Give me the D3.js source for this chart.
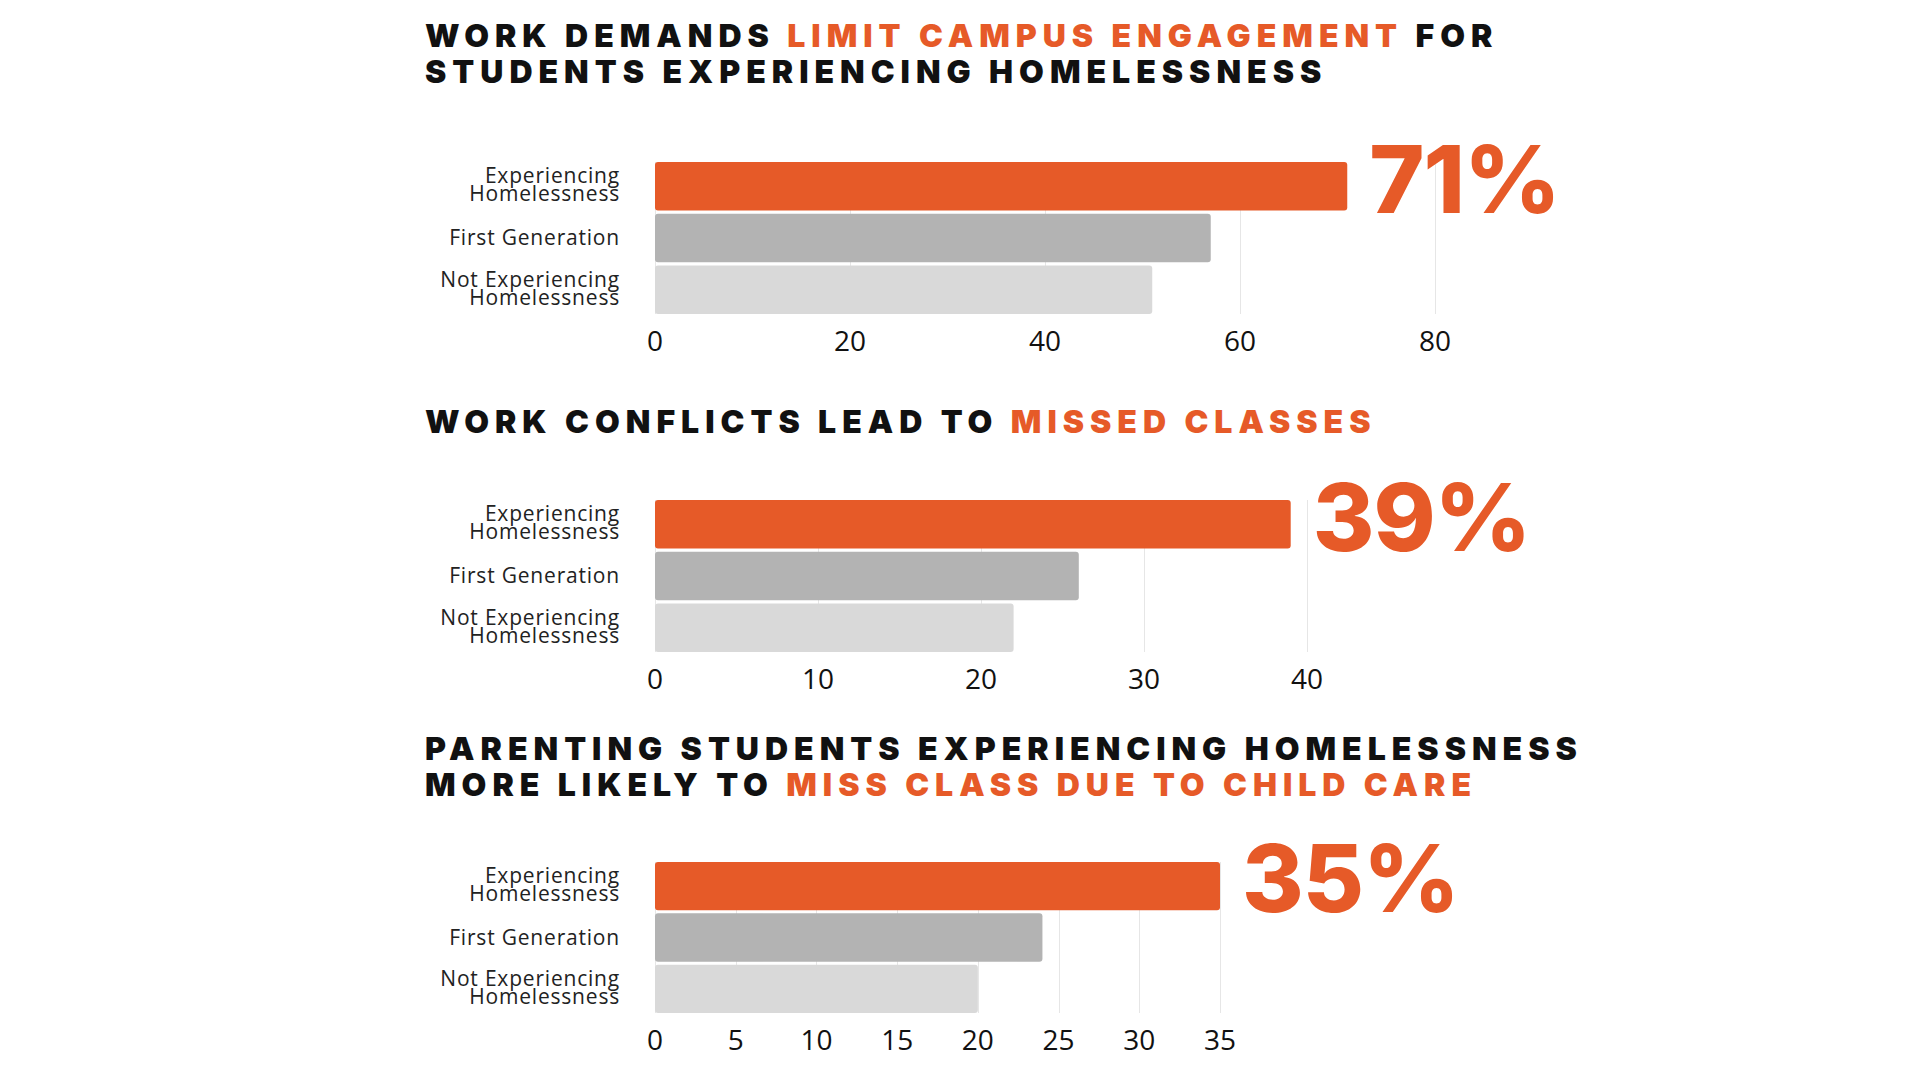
<!DOCTYPE html>
<meta charset='utf-8'>
<style>
  body { margin: 0; background: #fff; }
  .title { font-family: Inter, 'Noto Sans', sans-serif; font-weight: 900; font-size: 32px; fill: #111; letter-spacing: 6px; }
  .hl { fill: #e65a28; }
  .cat { font-family: 'Open Sans', sans-serif; font-size: 21px; fill: #222; letter-spacing: 0.8px; }
  .tick-label { font-family: 'Open Sans', sans-serif; font-size: 28px; fill: #111; }
  .grid line { stroke: #e6e6e6; stroke-width: 1; shape-rendering: crispEdges; }
  .grid path { display: none; }
  .big { font-family: Inter, sans-serif; font-weight: 800; font-size: 94px; fill: #e65a28; letter-spacing: -1px; }
</style>
<body>
<script src='https://d3js.org/d3.v7.min.js'></script>
<script>
  // groups shared by all three panels
  const groups = ['Experiencing Homelessness', 'First Generation', 'Not Experiencing Homelessness']
  const groupColors = ['#e65a28', '#b3b3b3', '#d9d9d9']

  // values (% of students)
  const engagementValues = [71, 57, 51]
  const missedClassValues = [39, 26, 22]
  const childCareValues = [35, 24, 20]

  const engagementTicks = [0, 20, 40, 60, 80]
  const missedClassTicks = [0, 10, 20, 30, 40]
  const childCareTicks = [0, 5, 10, 15, 20, 25, 30, 35]

  // title lines, [text, highlighted?]
  const engagementTitle = [
    [['WORK DEMANDS ', false], ['LIMIT CAMPUS ENGAGEMENT', true], [' FOR', false]],
    [['STUDENTS EXPERIENCING HOMELESSNESS', false]]
  ]
  const missedClassTitle = [
    [['WORK CONFLICTS LEAD TO ', false], ['MISSED CLASSES', true]]
  ]
  const childCareTitle = [
    [['PARENTING STUDENTS EXPERIENCING HOMELESSNESS', false]],
    [['MORE LIKELY TO ', false], ['MISS CLASS DUE TO CHILD CARE', true]]
  ]

  const W = 1920, H = 1080
  const left = 655, titleX = 425, labelX = 620

  const svg = d3.select('body').append('svg')
    .attr('width', W)
    .attr('height', H)

  const panels = [
    {title: engagementTitle, titleY: 47, values: engagementValues, ticks: engagementTicks, xEnd: 1435, top: 162, bottom: 314},
    {title: missedClassTitle, titleY: 433, values: missedClassValues, ticks: missedClassTicks, xEnd: 1307, top: 500, bottom: 652},
    {title: childCareTitle, titleY: 760, values: childCareValues, ticks: childCareTicks, xEnd: 1220, top: 862, bottom: 1013}
  ]

  panels.forEach(p => {
    const g = svg.append('g')

    // title
    p.title.forEach((line, i) => {
      const t = g.append('text')
        .attr('class', 'title')
        .attr('x', titleX)
        .attr('y', p.titleY + i * 36)
      line.forEach(seg => {
        t.append('tspan')
          .attr('class', seg[1] ? 'hl' : null)
          .text(seg[0])
      })
    })

    const x = d3.scaleLinear()
      .domain([0, d3.max(p.ticks)])
      .range([left, p.xEnd])

    const y = d3.scaleBand()
      .domain(groups)
      .range([p.top, p.bottom])
      .paddingInner(0.06)

    // gridlines
    g.append('g')
      .attr('class', 'grid')
      .attr('transform', `translate(0, ${p.top})`)
      .call(d3.axisBottom(x).tickValues(p.ticks).tickSize(p.bottom - p.top).tickFormat(''))

    // bars
    g.selectAll('rect.bar')
      .data(p.values)
      .join('rect')
      .attr('class', 'bar')
      .attr('x', x(0))
      .attr('y', (d, i) => y(groups[i]))
      .attr('width', d => x(d) - x(0))
      .attr('height', y.bandwidth())
      .attr('rx', 3)
      .attr('fill', (d, i) => groupColors[i])

    // category labels, long ones wrapped on two lines
    groups.forEach(name => {
      const cy = y(name) + y.bandwidth() / 2
      const words = name.startsWith('Not') ? ['Not Experiencing', 'Homelessness']
        : name.startsWith('Experiencing') ? ['Experiencing', 'Homelessness'] : [name]
      const t = g.append('text')
        .attr('class', 'cat')
        .attr('text-anchor', 'end')
        .attr('x', labelX)
      if (words.length === 1) {
        t.attr('y', cy + 7).text(name)
      } else {
        words.forEach((w, i) => {
          t.append('tspan')
            .attr('x', labelX)
            .attr('y', cy - 3 + i * 18)
            .text(w)
        })
      }
    })

    // tick labels
    g.append('g')
      .selectAll('text')
      .data(p.ticks)
      .join('text')
      .attr('class', 'tick-label')
      .attr('text-anchor', 'middle')
      .attr('x', d => x(d))
      .attr('y', p.bottom + 37)
      .text(d => d)

    // big number next to the top bar
    const v = p.values[0]
    g.append('text')
      .attr('class', 'big')
      .attr('x', x(v) + 22)
      .attr('y', y(groups[0]) + y.bandwidth() + 2)
      .text(v + '%')
  })
</script>
</body>
